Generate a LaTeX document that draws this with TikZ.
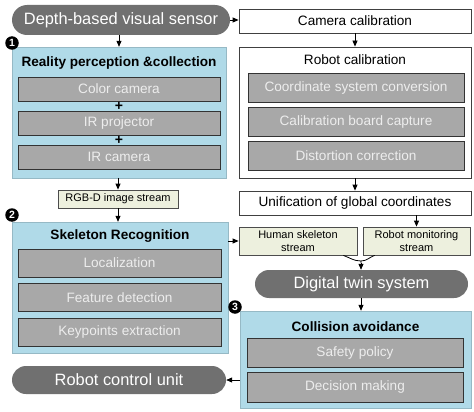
\documentclass[tikz,border=0pt]{standalone}
\usepackage{fontspec}
\setmainfont{Liberation Sans}
\usetikzlibrary{arrows.meta,shapes.misc}
\definecolor{pillgray}{RGB}{112,112,112}
\definecolor{itemgray}{RGB}{168,168,168}
\definecolor{panelblue}{RGB}{176,218,232}
\definecolor{streamcream}{RGB}{237,240,222}
\begin{document}
\begin{tikzpicture}
                [x=1pt, y=-1pt, >={Triangle[length=6pt,width=5pt]},
                pillnode/.style={rounded rectangle, fill=pillgray, text=white, inner sep=0pt, font=\fontsize{16.4}{18}\selectfont},
                panelnode/.style={rectangle, fill=panelblue, draw=panelblue!85!black, inner sep=0pt},
                itemnode/.style={rectangle, fill=itemgray, draw=black!80, thick, text=white!93!black, inner sep=0pt, minimum width=203pt, font=\fontsize{13.6}{15}\selectfont},
                boxnode/.style={rectangle, fill=white, draw=black!75, thick, inner sep=0pt, font=\fontsize{13.6}{15}\selectfont},
                streamnode/.style={rectangle, fill=streamcream, draw=black!70, thick, inner sep=0pt, align=center, font=\fontsize{11}{12.5}\selectfont},
                titlenode/.style={font=\fontsize{13.6}{15}\selectfont\bfseries},
                plusnode/.style={inner sep=0pt, font=\fontsize{14}{14}\selectfont\bfseries},
                marknode/.style={circle, fill=black, text=white, inner sep=0pt, minimum size=13.5pt, font=\fontsize{10.5}{10.5}\selectfont\bfseries},]

                \useasboundingbox (0,0) rectangle (474,412);

                % left column
                \node[pillnode, minimum width=218pt, minimum height=30pt] (sensor) at (121,20) {Depth-based visual sensor};
                \node[panelnode, minimum width=214pt, minimum height=131pt] (perc) at (119,112.5) {};
                \node[titlenode] (perct) at (119,63) {Reality perception \&collection};
                \node[itemnode, minimum width=202pt, minimum height=24pt] (color) at (119,89) {Color camera};
                \node[itemnode, minimum width=202pt, minimum height=24pt] (proj) at (119,123) {IR projector};
                \node[itemnode, minimum width=202pt, minimum height=24pt] (ircam) at (119,157) {IR camera};
                \node[plusnode] (plus1) at (119,106) {+};
                \node[plusnode] (plus2) at (119,140) {+};

                \node[streamnode, minimum width=120pt, minimum height=18pt] (rgbd) at (118,199) {RGB-D image stream};

                \node[panelnode, minimum width=216pt, minimum height=131pt] (skel) at (120,287.5) {};
                \node[titlenode] (skelt) at (120,236) {Skeleton Recognition};
                \node[itemnode, minimum height=28pt] (loc) at (119.5,263) {Localization};
                \node[itemnode, minimum height=28pt] (feat) at (119.5,297.5) {Feature detection};
                \node[itemnode, minimum height=28pt] (keyp) at (119.5,332) {Keypoints extraction};

                \node[pillnode, minimum width=214pt, minimum height=28pt] (rcu) at (119,380) {Robot control unit};

                % right column
                \node[boxnode, minimum width=232pt, minimum height=24pt] (camcal) at (355,21) {Camera calibration};
                \node[boxnode, minimum width=232pt, minimum height=131pt] (robcal) at (355,112.5) {};
                \node[font=\fontsize{13.6}{15}\selectfont] (robcalt) at (355,60) {Robot calibration};
                \node[itemnode, minimum width=216pt, minimum height=29pt] (coord) at (356,87.5) {Coordinate system conversion};
                \node[itemnode, minimum width=216pt, minimum height=29pt] (board) at (356,121.5) {Calibration board capture};
                \node[itemnode, minimum width=216pt, minimum height=29pt] (dist) at (356,155.5) {Distortion correction};
                \node[boxnode, minimum width=232pt, minimum height=24pt] (unif) at (355,203) {Unification of global coordinates};

                \node[streamnode, minimum width=118pt, minimum height=28pt] (human) at (298,241) {Human skeleton\\stream};
                \node[streamnode, minimum width=107pt, minimum height=28pt] (robmon) at (416.5,241) {Robot monitoring\\stream};
                \coordinate (merge) at (361,263);

                \node[pillnode, minimum width=213pt, minimum height=28pt] (twin) at (361.5,284) {Digital twin system};
                \node[panelnode, minimum width=231pt, minimum height=97pt] (coll) at (355.5,359.5) {};
                \node[titlenode] (collt) at (355.5,327) {Collision avoidance};
                \node[itemnode, minimum width=216pt, minimum height=29pt] (safe) at (355,352.5) {Safety policy};
                \node[itemnode, minimum width=216pt, minimum height=30pt] (dec) at (355,387) {Decision making};

                % step markers
                \node[marknode] (m1) at (12,43) {1};
                \node[marknode] (m2) at (12,215) {2};
                \node[marknode] (m3) at (235,307) {3};

                % connectors
                \draw[->, thick] (sensor.east) -- (sensor.east -| camcal.west);
                \draw[->, thick] (perc.north |- sensor.south) -- (perc.north);
                \draw[->, thick] (perc.south -| rgbd.north) -- (rgbd.north);
                \draw[->, thick] (rgbd.south) -- (rgbd.south |- skel.north);
                \draw[->, thick] (camcal.south) -- (robcal.north);
                \draw[->, thick] (robcal.south) -- (unif.north);
                \draw[->, thick] (robmon.north |- unif.south) -- (robmon.north);
                \draw[->, thick] (skel.east |- human.west) -- (human.west);
                \draw[thick] ([xshift=-14pt]human.south east) to[out=-20, in=180] ([yshift=2pt]merge) -- (merge);
                \draw[thick] ([xshift=12pt]robmon.south west) to[out=-160, in=0] ([yshift=2pt]merge);
                \draw[->, thick] (merge) -- (merge |- twin.north);
                \draw[->, thick] (twin.south -| merge) -- (merge |- coll.north);
                \draw[->, thick] (coll.west |- rcu.east) -- (rcu.east);
  
                
            \end{tikzpicture}
\end{document}
